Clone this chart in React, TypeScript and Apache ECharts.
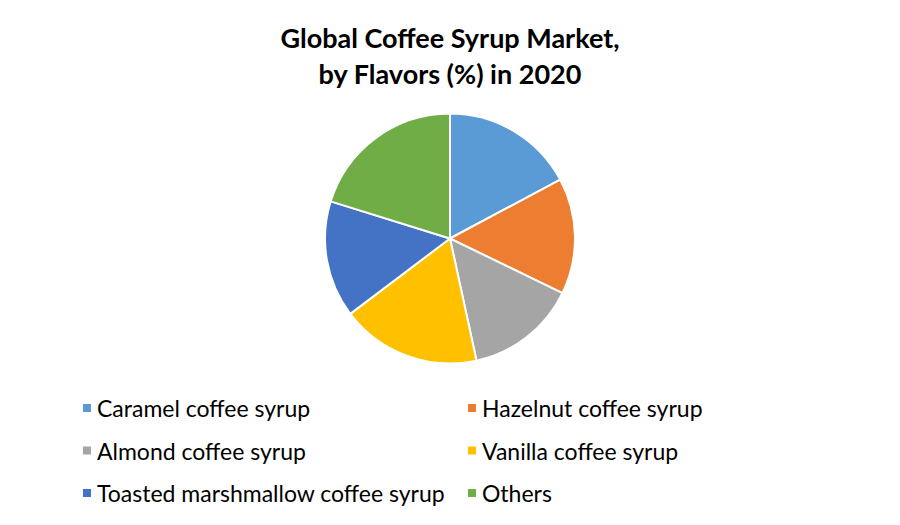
import React, { useEffect, useRef } from 'react';
import * as echarts from 'echarts';

const flavors = [
  'Caramel coffee syrup',
  'Hazelnut coffee syrup',
  'Almond coffee syrup',
  'Vanilla coffee syrup',
  'Toasted marshmallow coffee syrup',
  'Others',
];
const shares = [17.2, 15.0, 14.4, 18.1, 15.1, 20.2];
const colors = ['#5B9BD5', '#ED7D31', '#A5A5A5', '#FFC000', '#4472C4', '#70AD47'];
const leftLegend = [flavors[0], flavors[2], flavors[4]];
const rightLegend = [flavors[1], flavors[3], flavors[5]];

const FONT = 'Lato, "Open Sans", sans-serif';

const legendBase = {
  orient: 'vertical' as const,
  top: 391,
  icon: 'rect',
  itemWidth: 10,
  itemHeight: 10,
  itemGap: 18.5,
  textStyle: {
    fontFamily: FONT,
    fontSize: 23,
    color: '#000',
    lineHeight: 24,
  },
};

const App: React.FC = () => {
  const chartRef = useRef<HTMLDivElement>(null);

  useEffect(() => {
    if (!chartRef.current) return;
    const chart = echarts.init(chartRef.current, undefined, { renderer: 'svg' });

    const option: echarts.EChartsOption = {
      animation: false,
      backgroundColor: '#fff',
      color: colors,
      title: {
        text: 'Global Coffee Syrup Market,\nby Flavors (%) in 2020',
        left: 'center',
        top: 14,
        textStyle: {
          fontFamily: FONT,
          fontSize: 27,
          fontWeight: 'bold',
          color: '#000',
          lineHeight: 36,
        },
      },
      legend: [
        { ...legendBase, left: 76, data: leftLegend },
        { ...legendBase, left: 461, data: rightLegend },
      ],
      series: [
        {
          type: 'pie',
          center: [450, 238.5],
          radius: 125,
          startAngle: 90,
          clockwise: true,
          label: { show: false },
          labelLine: { show: false },
          itemStyle: { borderColor: '#fff', borderWidth: 2 },
          emphasis: { disabled: true },
          data: flavors.map((name, i) => ({ name, value: shares[i] })),
        },
      ],
    };

    chart.setOption(option);
    return () => {
      chart.dispose();
    };
  }, []);

  return (
    <div
      ref={chartRef}
      style={{ position: 'fixed', left: 0, top: 0, width: 900, height: 525 }}
    />
  );
};

export default App;
